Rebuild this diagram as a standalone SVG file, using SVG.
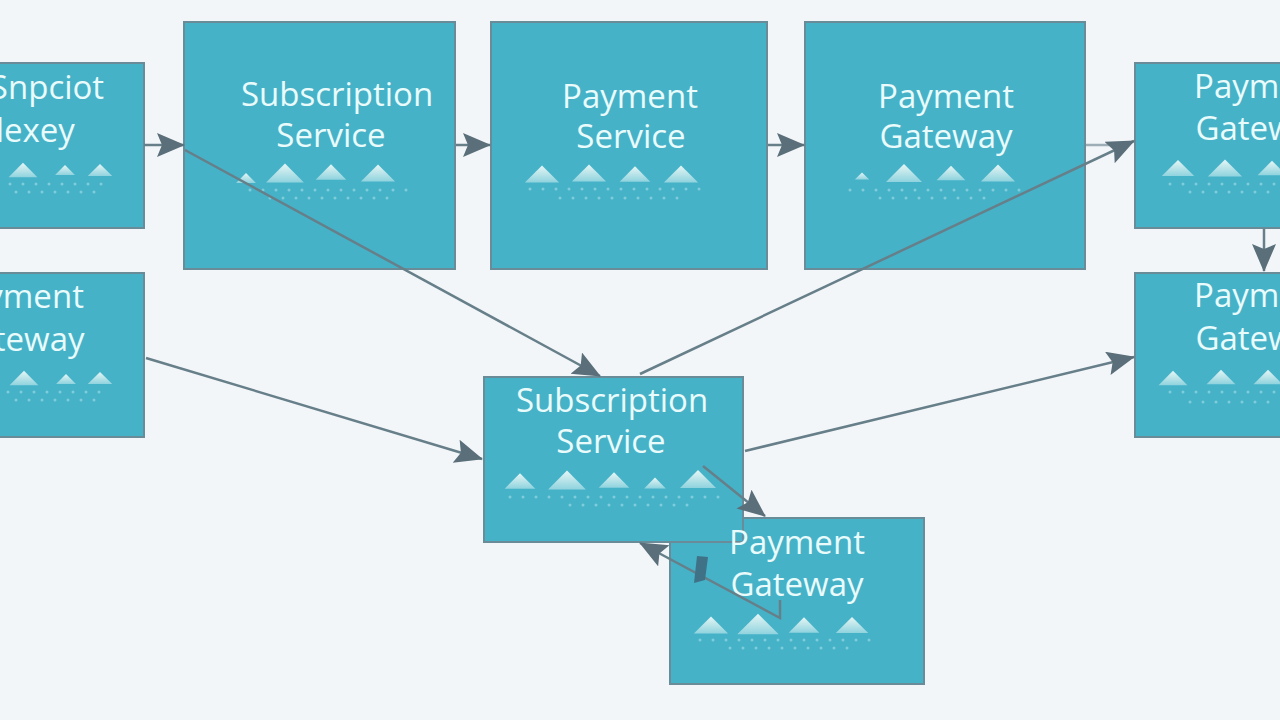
<svg xmlns="http://www.w3.org/2000/svg" width="1280" height="720" viewBox="0 0 1280 720">
<style>
.n{fill:#46b2c8;stroke:#6a8c99;stroke-width:2}
.t{font-family:"Open Sans","Liberation Sans",sans-serif;font-size:33px;fill:#e9fbfb;text-anchor:middle}
.c{fill:none;stroke:#667f89;stroke-width:2.5}
.d{fill:none;stroke:#a5e0e6;stroke-width:3;stroke-linecap:round;stroke-dasharray:0 13;opacity:.6}
</style>
<defs>
<linearGradient id="g" x1="0" y1="0" x2="0" y2="1"><stop offset="0" stop-color="#e6f6f5"/><stop offset="1" stop-color="#8fd3de"/></linearGradient>
<polygon id="tri" points="0,-9 18,9 -18,9" fill="url(#g)"/>
<marker id="a" markerUnits="userSpaceOnUse" markerWidth="30" markerHeight="28" refX="27" refY="12" orient="auto"><path d="M0,0 L28,12 L0,24 L5,12 Z" fill="#5a6f79"/></marker>
</defs>
<rect width="1280" height="720" fill="#f3f6f9"/>
<g id="node-left-top"><rect class="n" x="-10" y="63" width="154" height="165"/><text class="t" x="47" y="99">Snpciot</text><text class="t" x="14" y="142">Gelexey</text><use href="#tri" transform="translate(23,170) scale(.8)"/><use href="#tri" transform="translate(65,170) scale(.55)"/><use href="#tri" transform="translate(100,170) scale(.68)"/><path class="d" d="M10,184H110M16,192H100"/></g>
<g id="node-left-bottom"><rect class="n" x="-10" y="273" width="154" height="164"/><text class="t" x="16" y="308">Payment</text><text class="t" x="18" y="351">Gateway</text><use href="#tri" transform="translate(24,378) scale(.8)"/><use href="#tri" transform="translate(66,379) scale(.55)"/><use href="#tri" transform="translate(100,378) scale(.68)"/><path class="d" d="M8,392H108M16,400H100"/></g>
<g id="node-subscription-top"><rect class="n" x="184" y="22" width="271" height="247"/><text class="t" x="337" y="106">Subscription</text><text class="t" x="331" y="147">Service</text><use href="#tri" transform="translate(246,178) scale(.55)"/><use href="#tri" transform="translate(285,173) scale(1.05)"/><use href="#tri" transform="translate(331,172) scale(.85)"/><use href="#tri" transform="translate(378,173) scale(.95)"/><path class="d" d="M250,190H410M270,198H390"/></g>
<g id="node-payment-service"><rect class="n" x="491" y="22" width="276" height="247"/><text class="t" x="630" y="108">Payment</text><text class="t" x="631" y="148">Service</text><use href="#tri" transform="translate(542,174) scale(.95)"/><use href="#tri" transform="translate(589,173) scale(.95)"/><use href="#tri" transform="translate(635,174) scale(.85)"/><use href="#tri" transform="translate(681,174) scale(.95)"/><path class="d" d="M530,189H710M560,198H680"/></g>
<g id="node-payment-gateway-top"><rect class="n" x="805" y="22" width="280" height="247"/><text class="t" x="946" y="108">Payment</text><text class="t" x="946" y="148">Gateway</text><use href="#tri" transform="translate(862,176) scale(.4)"/><use href="#tri" transform="translate(904,173) scale(1)"/><use href="#tri" transform="translate(951,173) scale(.8)"/><use href="#tri" transform="translate(998,173) scale(.95)"/><path class="d" d="M850,190H1020M880,198H990"/></g>
<g id="node-right-top"><rect class="n" x="1135" y="63" width="155" height="165"/><text class="t" x="1262" y="98">Payment</text><text class="t" x="1262" y="140">Gateway</text><use href="#tri" transform="translate(1178,168) scale(.9)"/><use href="#tri" transform="translate(1225,168) scale(.95)"/><use href="#tri" transform="translate(1272,168) scale(.8)"/><path class="d" d="M1170,184H1280M1190,192H1280"/></g>
<g id="node-right-bottom"><rect class="n" x="1135" y="273" width="155" height="164"/><text class="t" x="1262" y="307">Payment</text><text class="t" x="1262" y="350">Gateway</text><use href="#tri" transform="translate(1173,378) scale(.8)"/><use href="#tri" transform="translate(1221,377) scale(.8)"/><use href="#tri" transform="translate(1268,377) scale(.8)"/><path class="d" d="M1170,392H1280M1190,402H1280"/></g>
<g id="node-subscription-center"><rect class="n" x="484" y="377" width="259" height="165"/><text class="t" x="612" y="412">Subscription</text><text class="t" x="611" y="453">Service</text><use href="#tri" transform="translate(520,481) scale(.85)"/><use href="#tri" transform="translate(567,480) scale(1.05)"/><use href="#tri" transform="translate(614,480) scale(.85)"/><use href="#tri" transform="translate(655,483) scale(.6)"/><use href="#tri" transform="translate(698,479) scale(1)"/><path class="d" d="M510,497H720M570,505H690"/></g>
<g id="node-payment-gateway-bottom"><path class="n" d="M743,518H924V684H670V542H743Z"/><text class="t" x="797" y="554">Payment</text><text class="t" x="797" y="596">Gateway</text><use href="#tri" transform="translate(711,625) scale(.95)"/><use href="#tri" transform="translate(758,624) scale(1.15)"/><use href="#tri" transform="translate(804,625) scale(.85)"/><use href="#tri" transform="translate(852,625) scale(.9)"/><path class="d" d="M700,640H870M730,648H850"/></g>
<g id="connectors">
<path class="c" marker-end="url(#a)" d="M144,145H184"/>
<path class="c" marker-end="url(#a)" d="M185,150L600,376"/>
<path class="c" marker-end="url(#a)" d="M456,145H490"/>
<path class="c" marker-end="url(#a)" d="M768,145H804"/>
<path class="c" stroke-opacity=".6" d="M1086,145H1125"/>
<path class="c" marker-end="url(#a)" d="M640,374L1134,141"/>
<path class="c" marker-end="url(#a)" d="M1264,229V271"/>
<path class="c" marker-end="url(#a)" d="M146,358L482,459"/>
<path class="c" marker-end="url(#a)" d="M745,451L1134,357"/>
<path class="c" marker-end="url(#a)" d="M703,466L765,516"/>
<path class="c" marker-end="url(#a)" d="M780,600V618L640,543"/>
<path d="M697,556L708,557L705,580L694,583Z" fill="#3f7286"/>
</g>
</svg>
